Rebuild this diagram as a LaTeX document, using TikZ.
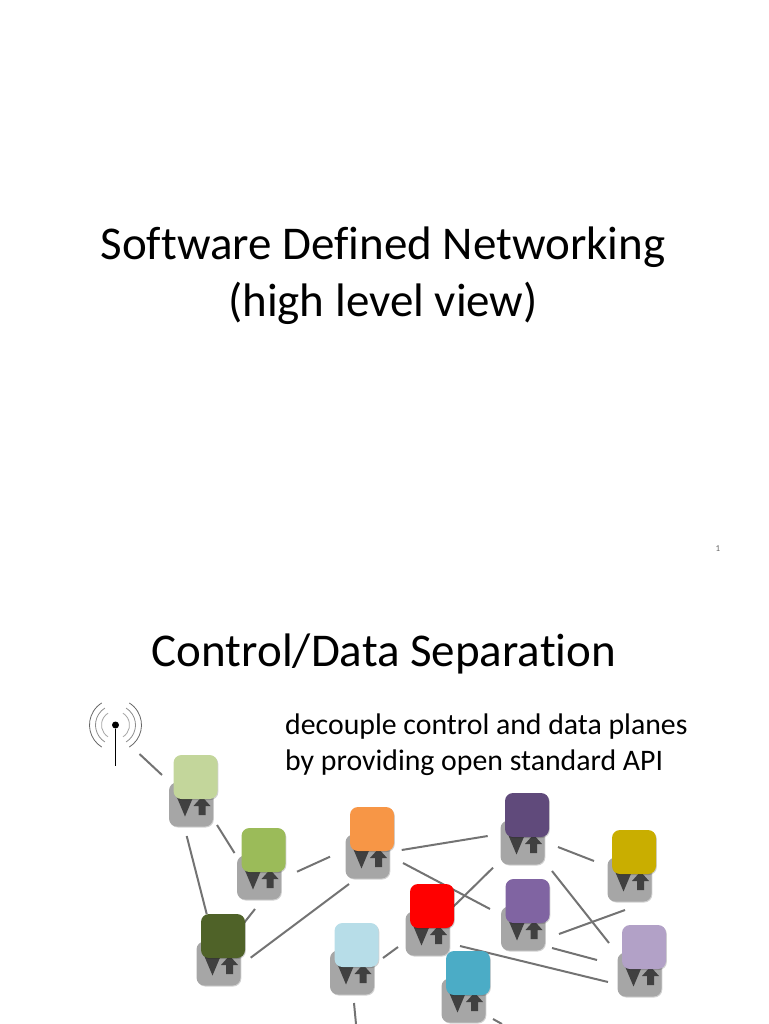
\documentclass[tikz,border=0pt]{standalone}
\usepackage{fontspec}
\setmainfont[Ligatures=NoCommon]{Carlito}
\usetikzlibrary{backgrounds,calc,shadows}
\definecolor{swA}{HTML}{C3D69B}
\definecolor{swB}{HTML}{9BBB59}
\definecolor{swC}{HTML}{4F6228}
\definecolor{swD}{HTML}{F79646}
\definecolor{swE}{HTML}{604A7B}
\definecolor{swF}{HTML}{C9AE00}
\definecolor{swG}{HTML}{FF0000}
\definecolor{swH}{HTML}{8064A2}
\definecolor{swI}{HTML}{B2A1C7}
\definecolor{swJ}{HTML}{B7DDE8}
\definecolor{swK}{HTML}{4BACC6}
\tikzset{
  softshadow/.style={drop shadow={shadow xshift=0.8pt,shadow yshift=-1pt,opacity=0.18,fill=black}},
  switchtop/.style={minimum size=44pt,inner sep=0pt,rounded corners=8pt,softshadow},
  switchbase/.style={minimum size=44pt,inner sep=0pt,rounded corners=8pt,fill=black!35,softshadow},
  link/.style={line width=2pt,draw=black!55},
  wave/.style={line width=0.8pt},
  titletext/.style={font=\fontsize{47}{47}\selectfont,align=center,inner sep=0pt},
  bodytext/.style={font=\fontsize{29.8}{29.8}\selectfont,anchor=base west,inner sep=0pt}
}
\begin{document}
\begin{tikzpicture}[x=1pt,y=-1pt]
\useasboundingbox (0,0) rectangle (768,1024);
\node[titletext] (title) at (383,247) {Software Defined Networking};
\node[titletext] (subtitle) at (383,303) {(high level view)};
\node[font=\fontsize{9}{9}\selectfont,text=black!60] (pagenum) at (718,549) {1};
\node[titletext] (heading) at (384,654) {Control/Data Separation};
\node[bodytext] (lineone) at (285,734) {decouple control and data planes};
\node[bodytext] (linetwo) at (285,770) {by providing open standard API};
% antenna
\node[circle,fill=black,inner sep=0pt,minimum size=7pt] (ant) at (115.5,725) {};
\coordinate (antfoot) at (115.5,766);
\draw[line width=1.8pt] (ant) -- (antfoot);
\foreach \r/\g in {26/60,20/45,14/35} {
  \draw[wave,draw=black!\g] ($(ant)+(122:\r)$) arc[start angle=122,end angle=238,radius=\r];
  \draw[wave,draw=black!\g] ($(ant)+(58:\r)$) arc[start angle=58,end angle=-58,radius=\r];
}
% switches
\foreach \nm/\px/\py in {A/195.5/777,B/263.5/850,C/223/936,D/372/829,E/527/815,F/634/852,G/432/906,H/527.5/901,I/644/947,J/356.5/945,K/468/973} {
  \node[switchbase] (b\nm) at (\px-4.5,\py+27.5) {};
  \begin{scope}[shift={(b\nm.center)}]
    \fill[black!75] (-14,-7) -- (2,-7) -- (-6,12) -- cycle;
    \fill[black!75] (11,-8) -- (19.5,1.5) -- (14.5,1.5) -- (14.5,10.5) -- (7.5,10.5) -- (7.5,1.5) -- (2.5,1.5) -- cycle;
  \end{scope}
  \node[switchtop,fill=sw\nm] (t\nm) at (\px,\py) {};
}
\coordinate (endJ) at (356,1024);
\coordinate (endK) at (502,1024);
\begin{scope}[on background layer]
\foreach \from/\ax/\ay/\to/\bx/\by in {ant/24/29/tA/-33.5/-2, tA/21.5/48/tB/-29/3, tA/-8.8/59/tC/-16.3/-22,
  tB/-8.5/59/tC/17/-8, tB/33.5/21.7/tD/-42/27.7, tC/27.7/21.7/tD/-23/55, tD/29.7/21/tE/-39.3/21,
  tD/31/34/tH/-37.5/8, tG/20/2/tE/-34/52.7, tE/31/32/tF/-40/9, tE/25/56/tI/-35/-4, tH/31.5/33/tF/-9/58,
  tH/24.5/47/tI/-47/13, tG/28/40/tI/-36/35, tJ/26.5/13/tG/-34/41, tJ/-2.5/58/endJ/0/0, tK/25/46/endK/0/0}
  \draw[link] ($(\from)+(\ax,\ay)$) -- ($(\to)+(\bx,\by)$);
\end{scope}
\end{tikzpicture}
\end{document}
